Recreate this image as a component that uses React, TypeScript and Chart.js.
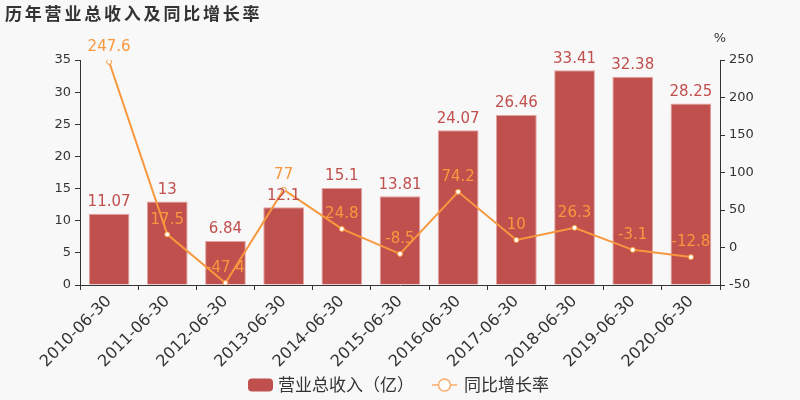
import React, { useEffect, useRef } from "react";
import { Chart, registerables } from "chart.js";

Chart.register(...registerables);

const categories = ["2010-06-30", "2011-06-30", "2012-06-30", "2013-06-30", "2014-06-30", "2015-06-30", "2016-06-30", "2017-06-30", "2018-06-30", "2019-06-30", "2020-06-30"];
const revenue = [11.07, 13, 6.84, 12.1, 15.1, 13.81, 24.07, 26.46, 33.41, 32.38, 28.25];
const growth = [247.6, 17.5, -47.4, 77, 24.8, -8.5, 74.2, 10, 26.3, -3.1, -12.8];
const title = "历年营业总收入及同比增长率";
const revenueName = "营业总收入（亿）";
const growthName = "同比增长率";

const BAR = "#c0504d";
const LINE = "#f7983e";
const TEXT = "#333333";
const FONT = "'DejaVu Sans', sans-serif";
const CJK = "'Noto Sans CJK SC', sans-serif";

const overlay = {
  id: "overlay",
  afterDatasetsDraw(chart: any) {
    const ctx = chart.ctx;
    ctx.save();
    ctx.textAlign = "center";
    ctx.textBaseline = "bottom";
    ctx.font = `15px ${FONT}`;
    const barMeta = chart.getDatasetMeta(0);
    barMeta.data.forEach((el: any, i: number) => {
      ctx.fillStyle = BAR;
      ctx.fillText(String(revenue[i]), el.x, el.y - 4);
    });
    const lineMeta = chart.getDatasetMeta(1);
    lineMeta.data.forEach((el: any, i: number) => {
      ctx.fillStyle = LINE;
      ctx.fillText(String(growth[i]), el.x, el.y - 7);
    });
    ctx.restore();
  },
  afterDraw(chart: any) {
    const ctx = chart.ctx;
    const area = chart.chartArea;
    ctx.save();
    // title
    ctx.fillStyle = TEXT;
    ctx.font = `bold 17px ${CJK}`;
    (ctx as any).letterSpacing = "2.8px";
    ctx.textAlign = "left";
    ctx.textBaseline = "middle";
    ctx.fillText(title, 5, 14);
    (ctx as any).letterSpacing = "0px";
    // % unit
    ctx.font = `13px ${FONT}`;
    ctx.textAlign = "center";
    ctx.fillText("%", area.right, 39);
    // legend
    ctx.font = `17px ${CJK}`;
    ctx.textBaseline = "middle";
    ctx.textAlign = "left";
    const ly = 385;
    let x = 248;
    ctx.fillStyle = BAR;
    ctx.beginPath();
    (ctx as any).roundRect(x, ly - 6.5, 25, 13, 4);
    ctx.fill();
    ctx.fillStyle = TEXT;
    ctx.fillText(revenueName, x + 30, ly);
    x = 432;
    ctx.strokeStyle = "#f9ac6c";
    ctx.lineWidth = 1.5;
    ctx.beginPath();
    ctx.moveTo(x, ly);
    ctx.lineTo(x + 25, ly);
    ctx.stroke();
    ctx.beginPath();
    ctx.arc(x + 12.5, ly, 6, 0, Math.PI * 2);
    ctx.fillStyle = "#ffffff";
    ctx.fill();
    ctx.stroke();
    ctx.fillStyle = TEXT;
    ctx.fillText(growthName, x + 32, ly);
    ctx.restore();
  },
};

const bgPlugin = {
  id: "bg",
  beforeDraw(chart: any) {
    const ctx = chart.ctx;
    ctx.save();
    ctx.fillStyle = "#f8f8f8";
    ctx.fillRect(0, 0, chart.width, chart.height);
    ctx.restore();
  },
};

export default function App() {
  const ref = useRef<HTMLCanvasElement>(null);
  useEffect(() => {
    document.body.style.margin = "0";
    const chart = new Chart(ref.current as HTMLCanvasElement, {
      type: "bar",
      data: {
        labels: categories,
        datasets: [
          {
            type: "bar",
            label: revenueName,
            data: revenue,
            backgroundColor: BAR,
            borderColor: "#e3a3a1",
            borderWidth: 1,
            barPercentage: 0.7,
            categoryPercentage: 1,
            yAxisID: "y",
            order: 2,
          },
          {
            type: "line",
            label: growthName,
            data: growth,
            borderColor: LINE,
            borderWidth: 2,
            backgroundColor: "#ffffff",
            pointBackgroundColor: "#ffffff",
            pointBorderColor: LINE,
            pointBorderWidth: 1,
            pointRadius: 2.5,
            tension: 0,
            yAxisID: "y1",
            order: 1,
          } as any,
        ],
      },
      options: {
        animation: false,
        responsive: false,
        layout: { padding: { top: 60, left: 0, right: 0, bottom: 0 } },
        plugins: { legend: { display: false }, tooltip: { enabled: false } },
        scales: {
          x: {
            offset: true,
            grid: { display: true, offset: true, drawOnChartArea: false, tickLength: 5, color: TEXT },
            border: { color: TEXT, width: 1 },
            ticks: { color: TEXT, font: { family: FONT, size: 16 }, minRotation: 45, maxRotation: 45, autoSkip: false, padding: 2 },
            afterFit(s: any) { s.height = 115; },
          },
          y: {
            position: "left",
            min: 0,
            max: 35,
            grid: { display: true, drawOnChartArea: false, tickLength: 5, color: TEXT },
            border: { color: TEXT, width: 1 },
            ticks: { stepSize: 5, color: TEXT, font: { family: FONT, size: 13 }, padding: 4 },
            afterFit(s: any) { s.width = 80; },
          },
          y1: {
            position: "right",
            min: -50,
            max: 250,
            grid: { display: true, drawOnChartArea: false, tickLength: 5, color: TEXT },
            border: { color: TEXT, width: 1 },
            ticks: { stepSize: 50, color: TEXT, font: { family: FONT, size: 13 }, padding: 4 },
            afterFit(s: any) { s.width = 80; },
          },
        },
      },
      plugins: [bgPlugin, overlay],
    });
    return () => chart.destroy();
  }, []);
  return <canvas ref={ref} width={800} height={400} style={{ display: "block" }} />;
}
